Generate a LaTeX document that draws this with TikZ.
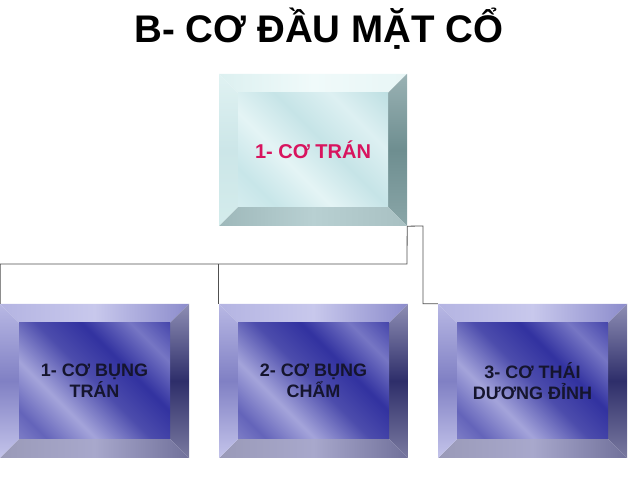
\documentclass[tikz,border=0pt]{standalone}
\usepackage{fontspec}
\setmainfont{Liberation Sans}
\usetikzlibrary{calc}
\definecolor{pinktxt}{HTML}{D8145E}
\definecolor{navytxt}{HTML}{15152E}
\definecolor{linegray}{HTML}{505050}
% blue stripe stops
\definecolor{bs1}{HTML}{ACACDE}\definecolor{bs2}{HTML}{6464BA}\definecolor{bs3}{HTML}{A4A4DA}
\definecolor{bs4}{HTML}{4C4CAC}\definecolor{bs5}{HTML}{3232A0}\definecolor{bs6}{HTML}{7676C4}
\definecolor{bs7}{HTML}{3C3CA6}\definecolor{bs8}{HTML}{6E6EBE}
% cyan stripe stops
\definecolor{cs1}{HTML}{E6F5F6}\definecolor{cs2}{HTML}{C8E6E9}\definecolor{cs3}{HTML}{E4F4F5}
\definecolor{cs4}{HTML}{C6E4E7}\definecolor{cs5}{HTML}{DDF0F2}\definecolor{cs6}{HTML}{BFE0E3}
\definecolor{cs7}{HTML}{D8EEF0}
% blue bevels
\definecolor{bt1}{HTML}{B4B4E2}\definecolor{bt2}{HTML}{8C8CCC}\definecolor{bt3}{HTML}{C8C8EC}
\definecolor{br1}{HTML}{8E8EB4}\definecolor{br2}{HTML}{7A7AA0}\definecolor{br3}{HTML}{2E2E6A}
\definecolor{bb1}{HTML}{9A9AB8}\definecolor{bb2}{HTML}{70709A}\definecolor{bb3}{HTML}{A8A8CC}
\definecolor{bl1}{HTML}{B8B8E4}\definecolor{bl2}{HTML}{C4C4EA}\definecolor{bl3}{HTML}{8080C4}
% cyan bevels
\definecolor{ct1}{HTML}{DCF0F0}\definecolor{ct2}{HTML}{E8F6F6}\definecolor{ct3}{HTML}{F0FAFA}
\definecolor{cr1}{HTML}{9AB2B4}\definecolor{cr2}{HTML}{8AA6A8}\definecolor{cr3}{HTML}{6E8E90}
\definecolor{cb1}{HTML}{9EB8BA}\definecolor{cb2}{HTML}{A8C0C2}\definecolor{cb3}{HTML}{B8D0D2}
\definecolor{cl1}{HTML}{E0F2F2}\definecolor{cl2}{HTML}{D4ECEC}\definecolor{cl3}{HTML}{CCE6E8}
\pgfdeclarehorizontalshading{bluestripe}{100bp}{color(0bp)=(bs1); color(22bp)=(bs2); color(35bp)=(bs3); color(50bp)=(bs4); color(62bp)=(bs5); color(75bp)=(bs6); color(88bp)=(bs7); color(100bp)=(bs8)}
\pgfdeclarehorizontalshading{cyanstripe}{100bp}{color(0bp)=(cs1); color(25bp)=(cs2); color(40bp)=(cs3); color(55bp)=(cs4); color(70bp)=(cs5); color(85bp)=(cs6); color(100bp)=(cs7)}
\newcommand{\bevelfill}[6]{%
  \coordinate (NW) at (path picture bounding box.north west);
  \coordinate (NE) at (path picture bounding box.north east);
  \coordinate (SE) at (path picture bounding box.south east);
  \coordinate (SW) at (path picture bounding box.south west);
  \shade[#1] (NW) -- (NE) -- ($(NE)+(-19pt,-19pt)$) -- ($(NW)+(19pt,-19pt)$) -- cycle;
  \shade[#2] (NE) -- (SE) -- ($(SE)+(-19pt,19pt)$) -- ($(NE)+(-19pt,-19pt)$) -- cycle;
  \shade[#3] (SE) -- (SW) -- ($(SW)+(19pt,19pt)$) -- ($(SE)+(-19pt,19pt)$) -- cycle;
  \shade[#4] (SW) -- (NW) -- ($(NW)+(19pt,-19pt)$) -- ($(SW)+(19pt,19pt)$) -- cycle;
  \shade[shading=#5,shading angle=#6] ($(NW)+(19pt,-19pt)$) rectangle ($(SE)+(-19pt,19pt)$);
}
\tikzset{
  bluebox/.style={minimum width=189pt, minimum height=154pt, inner sep=0pt,
    align=center, text=navytxt, font=\bfseries\fontsize{18}{21}\selectfont,
    path picture={\bevelfill
      {left color=bt1, right color=bt2, middle color=bt3}
      {top color=br1, bottom color=br2, middle color=br3}
      {left color=bb1, right color=bb2, middle color=bb3}
      {top color=bl1, bottom color=bl2, middle color=bl3}
      {bluestripe}{45}}},
  cyanbox/.style={minimum width=188pt, minimum height=152pt, inner sep=0pt,
    align=center, text=pinktxt, font=\bfseries\fontsize{20}{23}\selectfont,
    path picture={\bevelfill
      {left color=ct1, right color=ct2, middle color=ct3}
      {top color=cr1, bottom color=cr2, middle color=cr3}
      {left color=cb1, right color=cb2, middle color=cb3}
      {top color=cl1, bottom color=cl2, middle color=cl3}
      {cyanstripe}{45}}},
  conn/.style={draw=linegray, line width=0.8pt},
}
\begin{document}
\begin{tikzpicture}[x=1pt,y=-1pt]
\useasboundingbox (0,0) rectangle (638,478);
\node[anchor=base, font=\bfseries\fontsize{38.5}{40}\selectfont] (title) at (319,43) {B- CƠ ĐẦU MẶT CỔ};
\node[cyanbox] (top) at (313,150) {1- CƠ TRÁN};
\node[bluebox] (b1) at (94.5,381) {1- CƠ BỤNG\\TRÁN};
\node[bluebox] (b2) at (313.5,381) {2- CƠ BỤNG\\CHẨM};
\node[bluebox] (b3) at (532.5,381) {3- CƠ THÁI\\DƯƠNG ĐỈNH};
\coordinate (j) at (407,264);
\coordinate (k) at (423,226);
\draw[conn] (top.south east) -- (j) -| ($(b1.north west)+(0.5,0)$);
\draw[conn] (b2.north west) -- (b2.north west |- j);
\draw[conn] (top.south east) -- (k) |- (b3.north west);
\end{tikzpicture}
\end{document}
